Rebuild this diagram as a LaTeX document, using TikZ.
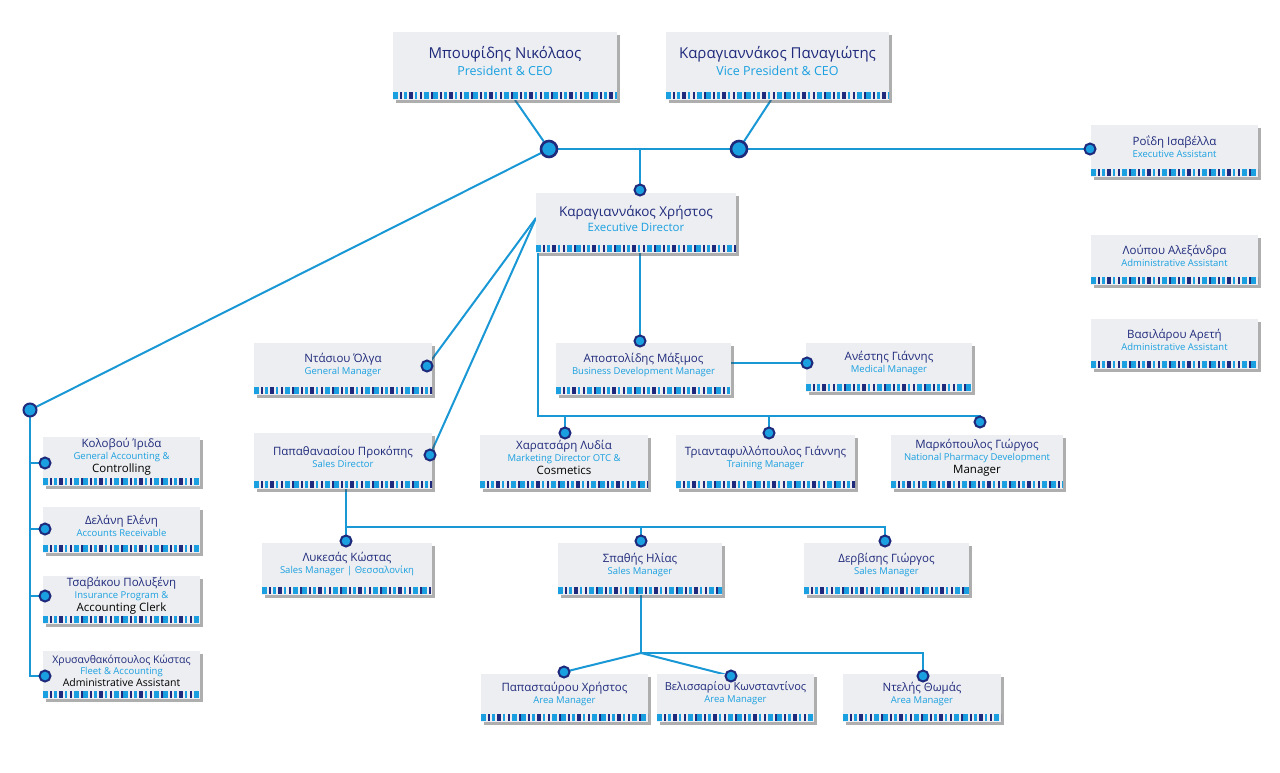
\documentclass[tikz,border=0pt]{standalone}
\usepackage{fontspec}
\setmainfont{Open Sans}
\usetikzlibrary{shadows}
\definecolor{navy}{HTML}{1F2A7C}
\definecolor{lb}{HTML}{1AA0E0}
\definecolor{ln}{HTML}{1A98D6}
\definecolor{cardbg}{HTML}{EDEEF1}
\tikzset{
  card/.style={fill=cardbg, draw=none, rectangle, inner sep=0pt,
    drop shadow={shadow xshift=3pt, shadow yshift=-3pt, opacity=.45, fill=black!70}},
  link/.style={draw=ln, line width=2pt},
  dot/.style={circle, fill=lb, draw=navy, line width=2pt, minimum size=11pt, inner sep=0pt},
  bigdot/.style={dot, minimum size=16pt, line width=2.6pt},
  ttl/.style={align=center, inner sep=0pt, font=\fontsize{11.5}{13}\selectfont},
}
\newcommand\subsz{\fontsize{9.5}{10.5}\selectfont}
\newcommand\cardx[8]{%
  \pgfmathsetmacro\cw{#4-#2}\pgfmathsetmacro\ch{#5-#3}%
  \pgfmathsetmacro\cx{(#2+#4)/2}\pgfmathsetmacro\cy{(#3+#5)/2}%
  \pgfmathsetmacro\ty{(#3+#5-9)/2}%
  \node[card, minimum width=\cw pt, minimum height=\ch pt] (#1) at (\cx,\cy) {};
  \begin{scope}
    \clip (#2,#5-8) rectangle (#4,#5-1);
    \pgfmathtruncatemacro\nn{\cw/40+1}
    \foreach \k in {0,...,\nn}{
      \pgfmathsetmacro\bx{#2+40*\k}
      \fill[lb] (\bx,#5-8) rectangle ++(5,7);
      \fill[navy] (\bx+7,#5-8) rectangle ++(2,7);
      \fill[lb] (\bx+11,#5-8) rectangle ++(3,7);
      \fill[navy] (\bx+16,#5-8) rectangle ++(4,7);
      \fill[lb] (\bx+22,#5-8) rectangle ++(2,7);
      \fill[navy] (\bx+27,#5-8) rectangle ++(2,7);
      \fill[lb] (\bx+31,#5-8) rectangle ++(5,7);
      \fill[navy] (\bx+38,#5-8) rectangle ++(1.5,7);
    }
  \end{scope}
  \node[ttl, #8] at (\cx,\ty) {\color{navy}#6\\[-1pt]\color{lb}\subsz #7};
}
\begin{document}
\begin{tikzpicture}[x=1pt,y=-1pt]
\useasboundingbox (0,0) rectangle (1280,772);
\fill[white] (0,0) rectangle (1280,772);
\coordinate (c1) at (549,149);
\coordinate (c2) at (739,149);
\coordinate (c3) at (30,410);
% links
\draw[link] (515,100) coordinate (ceoB) -- (c1);
\draw[link] (771,100) coordinate (vpB) -- (c2);
\draw[link] (c1) -- (1090,149) coordinate (roiD);
\draw[link] (640,149) -- (640,190) coordinate (exD);
\draw[link] (c1) -- (c3);
\draw[link] (c3) -- (30,676) -- (45,676) coordinate (chD);
\foreach \yy/\nm in {463/koD,529/deD,596/tsD}{\draw[link] (30,\yy) -- (45,\yy) coordinate (\nm);}
\draw[link] (536,218) coordinate (exL) -- (427,366) coordinate (ntD);
\draw[link] (exL) -- (430,455) coordinate (ppD);
\draw[link] (538,253) -- (538,416) -- (980,416) -- (980,422) coordinate (maD);
\draw[link] (565,416) -- (565,433) coordinate (chaD);
\draw[link] (769,416) -- (769,433) coordinate (trD);
\draw[link] (640,253) -- (640,341) coordinate (apD);
\draw[link] (731,363) -- (807,363) coordinate (anD);
\draw[link] (346,489) -- (346,527) -- (885,527) -- (885,541) coordinate (dvD);
\draw[link] (346,527) -- (346,541) coordinate (lyD);
\draw[link] (641,527) -- (641,541) coordinate (spD);
\draw[link] (641,595) -- (641,653) coordinate (spB);
\draw[link] (spB) -- (564,672) coordinate (paD);
\draw[link] (spB) -- (731,676) coordinate (veD);
\draw[link] (spB) -- (923,653) -- (923,676) coordinate (neD);
% cards
\cardx{ceo}{393}{32}{617}{100}{Μπουφίδης Νικόλαος}{\fontsize{12.5}{14}\selectfont President \& CEO}{font=\fontsize{15}{18}\selectfont}
\cardx{vp}{666}{32}{889}{100}{Καραγιαννάκος Παναγιώτης}{\fontsize{12.5}{14}\selectfont Vice President \& CEO}{font=\fontsize{15}{18}\selectfont}
\cardx{roidi}{1091}{125}{1258}{177}{Ροΐδη Ισαβέλλα}{Executive Assistant}{}
\cardx{loupou}{1091}{235}{1258}{285}{Λούπου Αλεξάνδρα}{Administrative Assistant}{}
\cardx{vasil}{1091}{319}{1258}{369}{Βασιλάρου Αρετή}{Administrative Assistant}{}
\cardx{exec}{536}{193}{736}{253}{Καραγιαννάκος Χρήστος}{\fontsize{11.5}{13}\selectfont Executive Director}{font=\fontsize{13.5}{16}\selectfont}
\cardx{ntasiou}{254}{343}{432}{395}{Ντάσιου Όλγα}{General Manager}{}
\cardx{apost}{556}{343}{731}{395}{Αποστολίδης Μάξιμος}{Business Development Manager}{}
\cardx{anest}{806}{343}{972}{392}{Ανέστης Γιάννης}{Medical Manager}{}
\cardx{papath}{254}{433}{432}{489}{Παπαθανασίου Προκόπης}{Sales Director}{}
\cardx{charats}{480}{435}{648}{489}{Χαρατσάρη Λυδία}{Marketing Director OTC \&\\Cosmetics}{}
\cardx{triant}{676}{435}{855}{489}{Τριανταφυλλόπουλος Γιάννης}{Training Manager}{}
\cardx{markop}{891}{435}{1063}{489}{Μαρκόπουλος Γιώργος}{National Pharmacy Development\\Manager}{}
\cardx{kolovou}{43}{437}{200}{486}{Κολοβού Ίριδα}{General Accounting \&\\Controlling}{}
\cardx{delani}{43}{507}{200}{553}{Δελάνη Ελένη}{Accounts Receivable}{}
\cardx{tsavak}{43}{576}{200}{624}{Τσαβάκου Πολυξένη}{Insurance Program \&\\Accounting Clerk}{}
\cardx{chrysan}{43}{651}{200}{699}{Χρυσανθακόπουλος Κώστας}{Fleet \& Accounting\\Administrative Assistant}{font=\fontsize{10.5}{12}\selectfont}
\cardx{lykesas}{262}{543}{432}{595}{Λυκεσάς Κώστας}{Sales Manager | Θεσσαλονίκη}{}
\cardx{spathis}{558}{543}{722}{595}{Σπαθής Ηλίας}{Sales Manager}{}
\cardx{dervisis}{804}{543}{969}{595}{Δερβίσης Γιώργος}{Sales Manager}{}
\cardx{papast}{481}{674}{648}{722}{Παπασταύρου Χρήστος}{Area Manager}{}
\cardx{velis}{657}{674}{814}{722}{Βελισσαρίου Κωνσταντίνος}{Area Manager}{font=\fontsize{11}{13}\selectfont}
\cardx{ntelis}{843}{674}{1001}{722}{Ντελής Θωμάς}{Area Manager}{}
% dots
\node[bigdot] (d1) at (c1) {};
\node[bigdot] (d2) at (c2) {};
\node[dot, minimum size=13pt] (d3) at (c3) {};
\foreach \p in {roiD,exD,koD,deD,tsD,chD,ntD,ppD,maD,chaD,trD,apD,anD,dvD,lyD,spD,paD,veD,neD}{\node[dot] (n\p) at (\p) {};}
\end{tikzpicture}
\end{document}
